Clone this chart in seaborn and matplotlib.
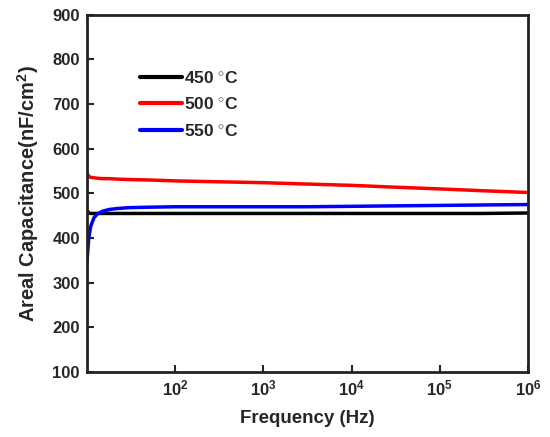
import matplotlib
matplotlib.use("Agg")
import matplotlib.pyplot as plt
import seaborn as sns
import pandas as pd
from matplotlib.ticker import FixedLocator, FixedFormatter, NullLocator

freq = [10, 10.5, 11, 12, 13, 15, 18, 22, 30, 50, 100, 300, 1000, 3000, 10000, 30000, 100000, 300000, 1000000]
c450 = [462, 456, 455, 455, 455, 455, 455, 455, 455, 455, 455, 455, 455, 455, 455, 455, 455, 455, 456]
c500 = [546, 538, 536, 535, 534, 533, 533, 532, 531, 530, 528, 526, 524, 521, 518, 514, 510, 506, 502]
c550 = [344, 400, 425, 445, 453, 460, 464, 466, 468, 469, 470, 470, 470, 470, 471, 472, 473, 474, 475]
labels = ["450 $^{\\circ}$C", "500 $^{\\circ}$C", "550 $^{\\circ}$C"]
colors = ["black", "#ff0000", "#0000ff"]
xticks = [1e2, 1e3, 1e4, 1e5, 1e6]
xticklabels = ["10$^{2}$", "10$^{3}$", "10$^{4}$", "10$^{5}$", "10$^{6}$"]
yticks = [100, 200, 300, 400, 500, 600, 700, 800, 900]

sns.set_style("ticks")
plt.rcParams['font.family'] = ['Liberation Sans', 'DejaVu Sans']
plt.rcParams['font.weight'] = 'bold'
plt.rcParams['mathtext.fontset'] = 'custom'
plt.rcParams['mathtext.rm'] = 'Liberation Sans:bold'
plt.rcParams['mathtext.it'] = 'Liberation Sans:bold'
plt.rcParams['mathtext.bf'] = 'Liberation Sans:bold'

rows = []
for lab, vals in zip(labels, [c450, c500, c550]):
    for f, v in zip(freq, vals):
        rows.append({"f": f, "C": v, "T": lab})
df = pd.DataFrame(rows)

fig = plt.figure(figsize=(5.5, 4.37), dpi=100)
ax = fig.add_axes([0.158, 0.149, 0.802, 0.817])
sns.lineplot(data=df, x="f", y="C", hue="T", palette=colors, hue_order=labels,
             linewidth=2.5, ax=ax)
ax.set_xscale("log")
ax.set_xlim(10, 1e6)
ax.set_ylim(100, 900)
ax.xaxis.set_major_locator(FixedLocator(xticks))
ax.xaxis.set_major_formatter(FixedFormatter(xticklabels))
ax.xaxis.set_minor_locator(NullLocator())
ax.set_yticks(yticks)
ax.tick_params(direction="in", length=5, width=1.5, labelsize=12, pad=5)
for lab in ax.get_yticklabels():
    lab.set_fontweight("bold")
for s in ax.spines.values():
    s.set_linewidth(2)
    s.set_color("#222222")
ax.set_xlabel("Frequency (Hz)", fontsize=13.5, fontweight="bold", labelpad=8)
ax.set_ylabel("Areal Capacitance(nF/cm$^{2}$)", fontsize=14.5, fontweight="bold", labelpad=8)
leg = ax.legend(loc="upper left", bbox_to_anchor=(0.085, 0.89), frameon=False,
                fontsize=12.5, handlelength=2.4, handletextpad=0.15, labelspacing=0.6)
for t in leg.get_texts():
    t.set_fontweight("bold")
for h in leg.get_lines():
    h.set_linewidth(3)
fig.savefig("out.png", dpi=100)
